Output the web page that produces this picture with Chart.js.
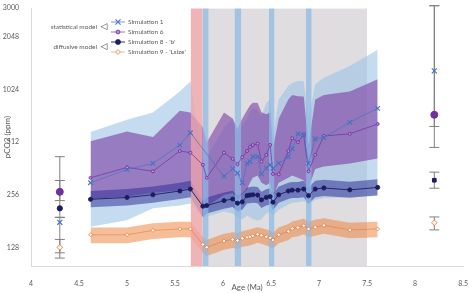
<!DOCTYPE html>
<html>
<head>
<meta charset="utf-8">
<script src="https://cdn.jsdelivr.net/npm/chart.js@4/dist/chart.umd.min.js"></script>
<style>
  html, body { margin: 0; padding: 0; background: #fff; }
  #wrap { width: 474px; height: 293px; }
</style>
</head>
<body>
<div id="wrap"><canvas id="co2chart" width="474" height="293"></canvas></div>
<script>
// ages (Ma) of the simulation points
var ages = [4.62, 5.0, 5.27, 5.55, 5.66, 5.79, 5.83, 6.01, 6.10, 6.15, 6.20, 6.25, 6.28, 6.31, 6.36,
            6.40, 6.45, 6.49, 6.52, 6.58, 6.68, 6.72, 6.78, 6.84, 6.89, 6.96, 7.05, 7.32, 7.61];

// Simulation 1 (statistical model)
var sim1 = [300, 357, 387, 493, 580, null, null, 327, 361, 340, 300, 387, 397, 423, 423,
            337, 364, 380, 363, 387, 423, 470, 572, 566, 387, 536, 545, 666, 800];
var sim1Hi = [585, 689, 757, 1000, 1145, 400, 420, 620, 700, 560, 640, 700, 760, 800, 780,
              720, 860, 900, 560, 900, 1080, 1120, 1150, 1150, 700, 1100, 1200, 1400, 1736];
var sim1Lo = [168, 183, 214, 222, 228, 190, 192, 205, 200, 190, 185, 195, 190, 185, 182,
              185, 200, 205, 195, 210, 225, 230, 232, 235, 225, 240, 245, 248, 252];

// Simulation 6 (statistical model)
var sim6 = [320, 367, 349, 456, 446, 380, 320, 446, 411, 383, 420, 456, 481, 493, 502,
            397, 433, 494, 337, 335, 456, 540, 512, 566, 349, 433, 556, 572, 651];
var sim6Hi = [519, 590, 549, 776, 757, 624, 510, 757, 700, 610, 700, 780, 830, 861, 860,
              760, 740, 757, 470, 700, 900, 955, 940, 935, 490, 900, 955, 1000, 1176];
var sim6Lo = [242, 250, 262, 272, 280, 215, 220, 255, 262, 240, 258, 275, 300, 320, 330,
              300, 290, 300, 250, 300, 320, 330, 320, 310, 280, 360, 372, 387, 413];

// Simulation 8 - 'b' (diffusive model)
var sim8 = [241, 247, 256, 269, 276, 220, 222, 237, 242, 229, 233, 253, 255, 256, 255,
            239, 247, 250, 232, 256, 269, 272, 272, 276, 253, 276, 280, 273, 282];
var sim8Hi = [269, 276, 285, 300, 308, 236, 247, 264, 270, 255, 260, 282, 284, 285, 284,
              266, 275, 279, 259, 285, 300, 303, 303, 308, 282, 308, 312, 304, 314];
var sim8Lo = [217, 222, 230, 242, 248, 190, 200, 213, 218, 206, 210, 228, 229, 230, 229,
              215, 222, 225, 209, 230, 242, 245, 245, 248, 228, 248, 252, 246, 254];

// Simulation 9 - 'Lsize' (diffusive model)
var sim9 = [151, 151, 160, 163, 163, 133, 128, 139, 142, 140, 144, 146, 147, 149, 152,
            150, 147, 145, 141, 151, 158, 164, 166, 170, 163, 167, 171, 161, 163];
var sim9Hi = [166, 166, 176, 179, 179, 146, 141, 153, 156, 154, 158, 161, 162, 164, 167,
              165, 162, 160, 155, 166, 174, 180, 183, 187, 179, 184, 188, 177, 179];
var sim9Lo = [135, 135, 143, 146, 146, 119, 114, 124, 127, 125, 129, 130, 131, 133, 136,
              134, 131, 129, 126, 135, 141, 146, 148, 152, 146, 149, 153, 144, 146];

// reference values at both ends (x = refX), with [low, high] error ranges
var refX = [4.3, 8.2];
var ref1 = [178, 1313];  var ref1Err = [[119, 190], [478, 3100]];
var ref6 = [266, 735];   var ref6Err = [[237, 423], [630, 3100]];
var ref8 = [214, 310];   var ref8Err = [[190, 309], [279, 345]];
var ref9 = [128, 177];   var ref9Err = [[111, 142], [161, 191]];

// shaded age intervals
var shadeGray = [5.663, 7.5];
var shadePink = [5.663, 5.786];
var shadeBlue = [[5.786, 5.85], [6.12, 6.19], [6.477, 6.536], [6.864, 6.923]];

// axes
var xTicks = [4, 4.5, 5, 5.5, 6, 6.5, 7, 7.5, 8, 8.5];
var yTicks = [128, 256, 512, 1024, 2048, 3000];
var yMin = 100, yMax = 3000;

var legendNames = ["Simulation 1", "Simulation 6", "Simulation 8 - 'b'", "Simulation 9 - 'Lsize'"];
var groupNames = ["statistical model", "diffusive model"];

var FONT = "Lato";
var TXT = "#595959";

function pts(arr){
    return ages.map(function(a, i){ return {x: a, y: arr[i]}; });
}

var datasets = [];

// background shading (drawn first)
function rect(range, color, ord){
    datasets.push({
        data: [{x: range[0], y: yMax}, {x: range[1], y: yMax}],
        fill: 'start', backgroundColor: color, borderWidth: 0, pointRadius: 0, order: ord
    });
}
rect(shadeGray, "#dfdddf", 100);

// bands
function band(hi, lo, color, ord){
    datasets.push({ data: pts(hi), fill: '+1', backgroundColor: color, borderWidth: 0, pointRadius: 0, order: ord });
    datasets.push({ data: pts(lo), fill: false, borderWidth: 0, pointRadius: 0, order: ord });
}
band(sim1Hi, sim1Lo, "rgba(157,195,230,0.6)", 60);
band(sim6Hi, sim6Lo, "rgba(120,55,160,0.58)", 59);
band(sim8Hi, sim8Lo, "rgba(45,45,150,0.52)", 58);
band(sim9Hi, sim9Lo, "rgba(237,125,49,0.5)", 57);

// vertical bars on top of the bands
rect(shadePink, "rgba(245,165,170,0.75)", 40);
shadeBlue.forEach(function(r){ rect(r, "rgba(140,185,228,0.72)", 40); });

// simulation lines
var styles = [
    {c: "#4472c4", ps: "crossRot", r: 3.2, fill: "#4472c4", bw: 1.1, lw: 0.7},
    {c: "#7030a0", ps: "circle", r: 1.5, fill: "#c58fd8", bw: 0.9, lw: 0.7},
    {c: "#1c1c5e", ps: "circle", r: 2.1, fill: "#1c1c5e", bw: 0.8, lw: 0.9},
    {c: "#d9743a", ps: "rectRot", r: 2, fill: "#fff3ea", bw: 0.7, lw: 0.5}
];
var series = [sim1, sim6, sim8, sim9];
for (var i = 3; i >= 0; i--){
    var s = styles[i];
    datasets.push({
        data: pts(series[i]), spanGaps: true, fill: false,
        borderColor: s.c, borderWidth: s.lw,
        pointStyle: s.ps, pointRadius: s.r, pointBorderColor: s.c,
        pointBackgroundColor: s.fill, pointBorderWidth: s.bw, order: 10 + i
    });
}

// error bars at both ends
[ref1Err, ref6Err, ref8Err, ref9Err].forEach(function(err){
    err.forEach(function(lh, k){
        datasets.push({
            data: [{x: refX[k], y: lh[0]}, {x: refX[k], y: lh[1]}],
            borderColor: "#808080", borderWidth: 1, fill: false,
            pointStyle: 'line', pointRadius: 5, pointBorderColor: "#808080", pointBorderWidth: 1,
            clip: false, order: 5
        });
    });
});

// reference markers
var refStyles = [
    {c: "#4472c4", ps: ["crossRot", "crossRot"], r: 3.5, fill: "#4472c4", bw: 1.2},
    {c: "#7030a0", ps: ["circle", "circle"], r: 3.5, fill: "#7030a0", bw: 1},
    {c: "#1c1c5e", ps: ["circle", "rect"], r: 2.6, fill: "#1c1c5e", bw: 1},
    {c: "#d9743a", ps: ["rectRot", "rectRot"], r: 2.8, fill: "#fff3ea", bw: 0.8}
];
[ref1, ref6, ref8, ref9].forEach(function(v, i){
    var s = refStyles[i];
    datasets.push({
        data: [{x: refX[0], y: v[0]}, {x: refX[1], y: v[1]}],
        showLine: false, pointStyle: s.ps, pointRadius: s.r,
        pointBorderColor: s.c, pointBackgroundColor: s.fill, pointBorderWidth: s.bw, order: 1
    });
});

// legend drawn by hand at the top left of the plot
var legendPlugin = {
    id: 'handLegend',
    afterDraw: function(chart){
        var ctx = chart.ctx;
        ctx.save();
        ctx.font = "6.5px " + FONT;
        ctx.textBaseline = "middle";
        for (var i = 0; i < legendNames.length; i++){
            var y = 22 + i * 10;
            var s = styles[i];
            ctx.strokeStyle = s.c;
            ctx.lineWidth = s.lw;
            ctx.beginPath(); ctx.moveTo(111, y); ctx.lineTo(125, y); ctx.stroke();
            ctx.fillStyle = s.fill;
            ctx.lineWidth = s.bw;
            Chart.helpers.drawPoint(ctx, {pointStyle: s.ps, radius: s.r + 0.4, borderWidth: s.bw, rotation: 0}, 118, y);
            ctx.fillStyle = TXT;
            ctx.textAlign = "left";
            ctx.fillText(legendNames[i], 128, y);
        }
        for (var g = 0; g < groupNames.length; g++){
            var gy = 27 + g * 20;
            ctx.fillStyle = TXT;
            ctx.textAlign = "right";
            ctx.fillText(groupNames[g], 97, gy);
            ctx.font = "9px DejaVu Sans";
            ctx.textAlign = "center";
            ctx.fillStyle = "#404040";
            ctx.fillText("\u25C1", 104, gy);
            ctx.font = "6.5px " + FONT;
        }
        ctx.restore();
    }
};

var ctx1 = document.getElementById("co2chart");
var co2chart = new Chart(ctx1, {
    type: 'line',
    data: { datasets: datasets },
    plugins: [legendPlugin],
    options: {
        responsive: false,
        animation: false,
        layout: { padding: { top: 4, right: 5, left: 0, bottom: 0 } },
        plugins: { legend: { display: false }, tooltip: { enabled: false } },
        scales: {
            x: {
                type: 'linear', min: 4, max: 8.5,
                afterBuildTicks: function(scale){ scale.ticks = xTicks.map(function(v){ return {value: v}; }); },
                afterFit: function(scale){ scale.height = 27; },
                grid: { display: false },
                border: { display: true, color: "#d9d9d9" },
                ticks: { color: TXT, font: { family: FONT, size: 7 }, padding: 6, maxRotation: 0,
                         callback: function(v){ return String(v); } },
                title: { display: true, text: "Age (Ma)", color: TXT, font: { family: FONT, size: 8 },
                         padding: { top: 0, bottom: 1 } }
            },
            y: {
                type: 'logarithmic', min: yMin, max: yMax,
                afterBuildTicks: function(scale){ scale.ticks = yTicks.map(function(v){ return {value: v}; }); },
                afterFit: function(scale){ scale.width = 31; },
                grid: { display: false },
                border: { display: true, color: "#d9d9d9" },
                ticks: { color: TXT, font: { family: FONT, size: 7 }, padding: 4,
                         callback: function(v){ return String(v); } },
                title: { display: true, text: "pCO2 (ppm)", color: TXT, font: { family: FONT, size: 8 },
                         padding: { top: 3, bottom: 0 } }
            }
        }
    }
});
</script>
</body>
</html>
